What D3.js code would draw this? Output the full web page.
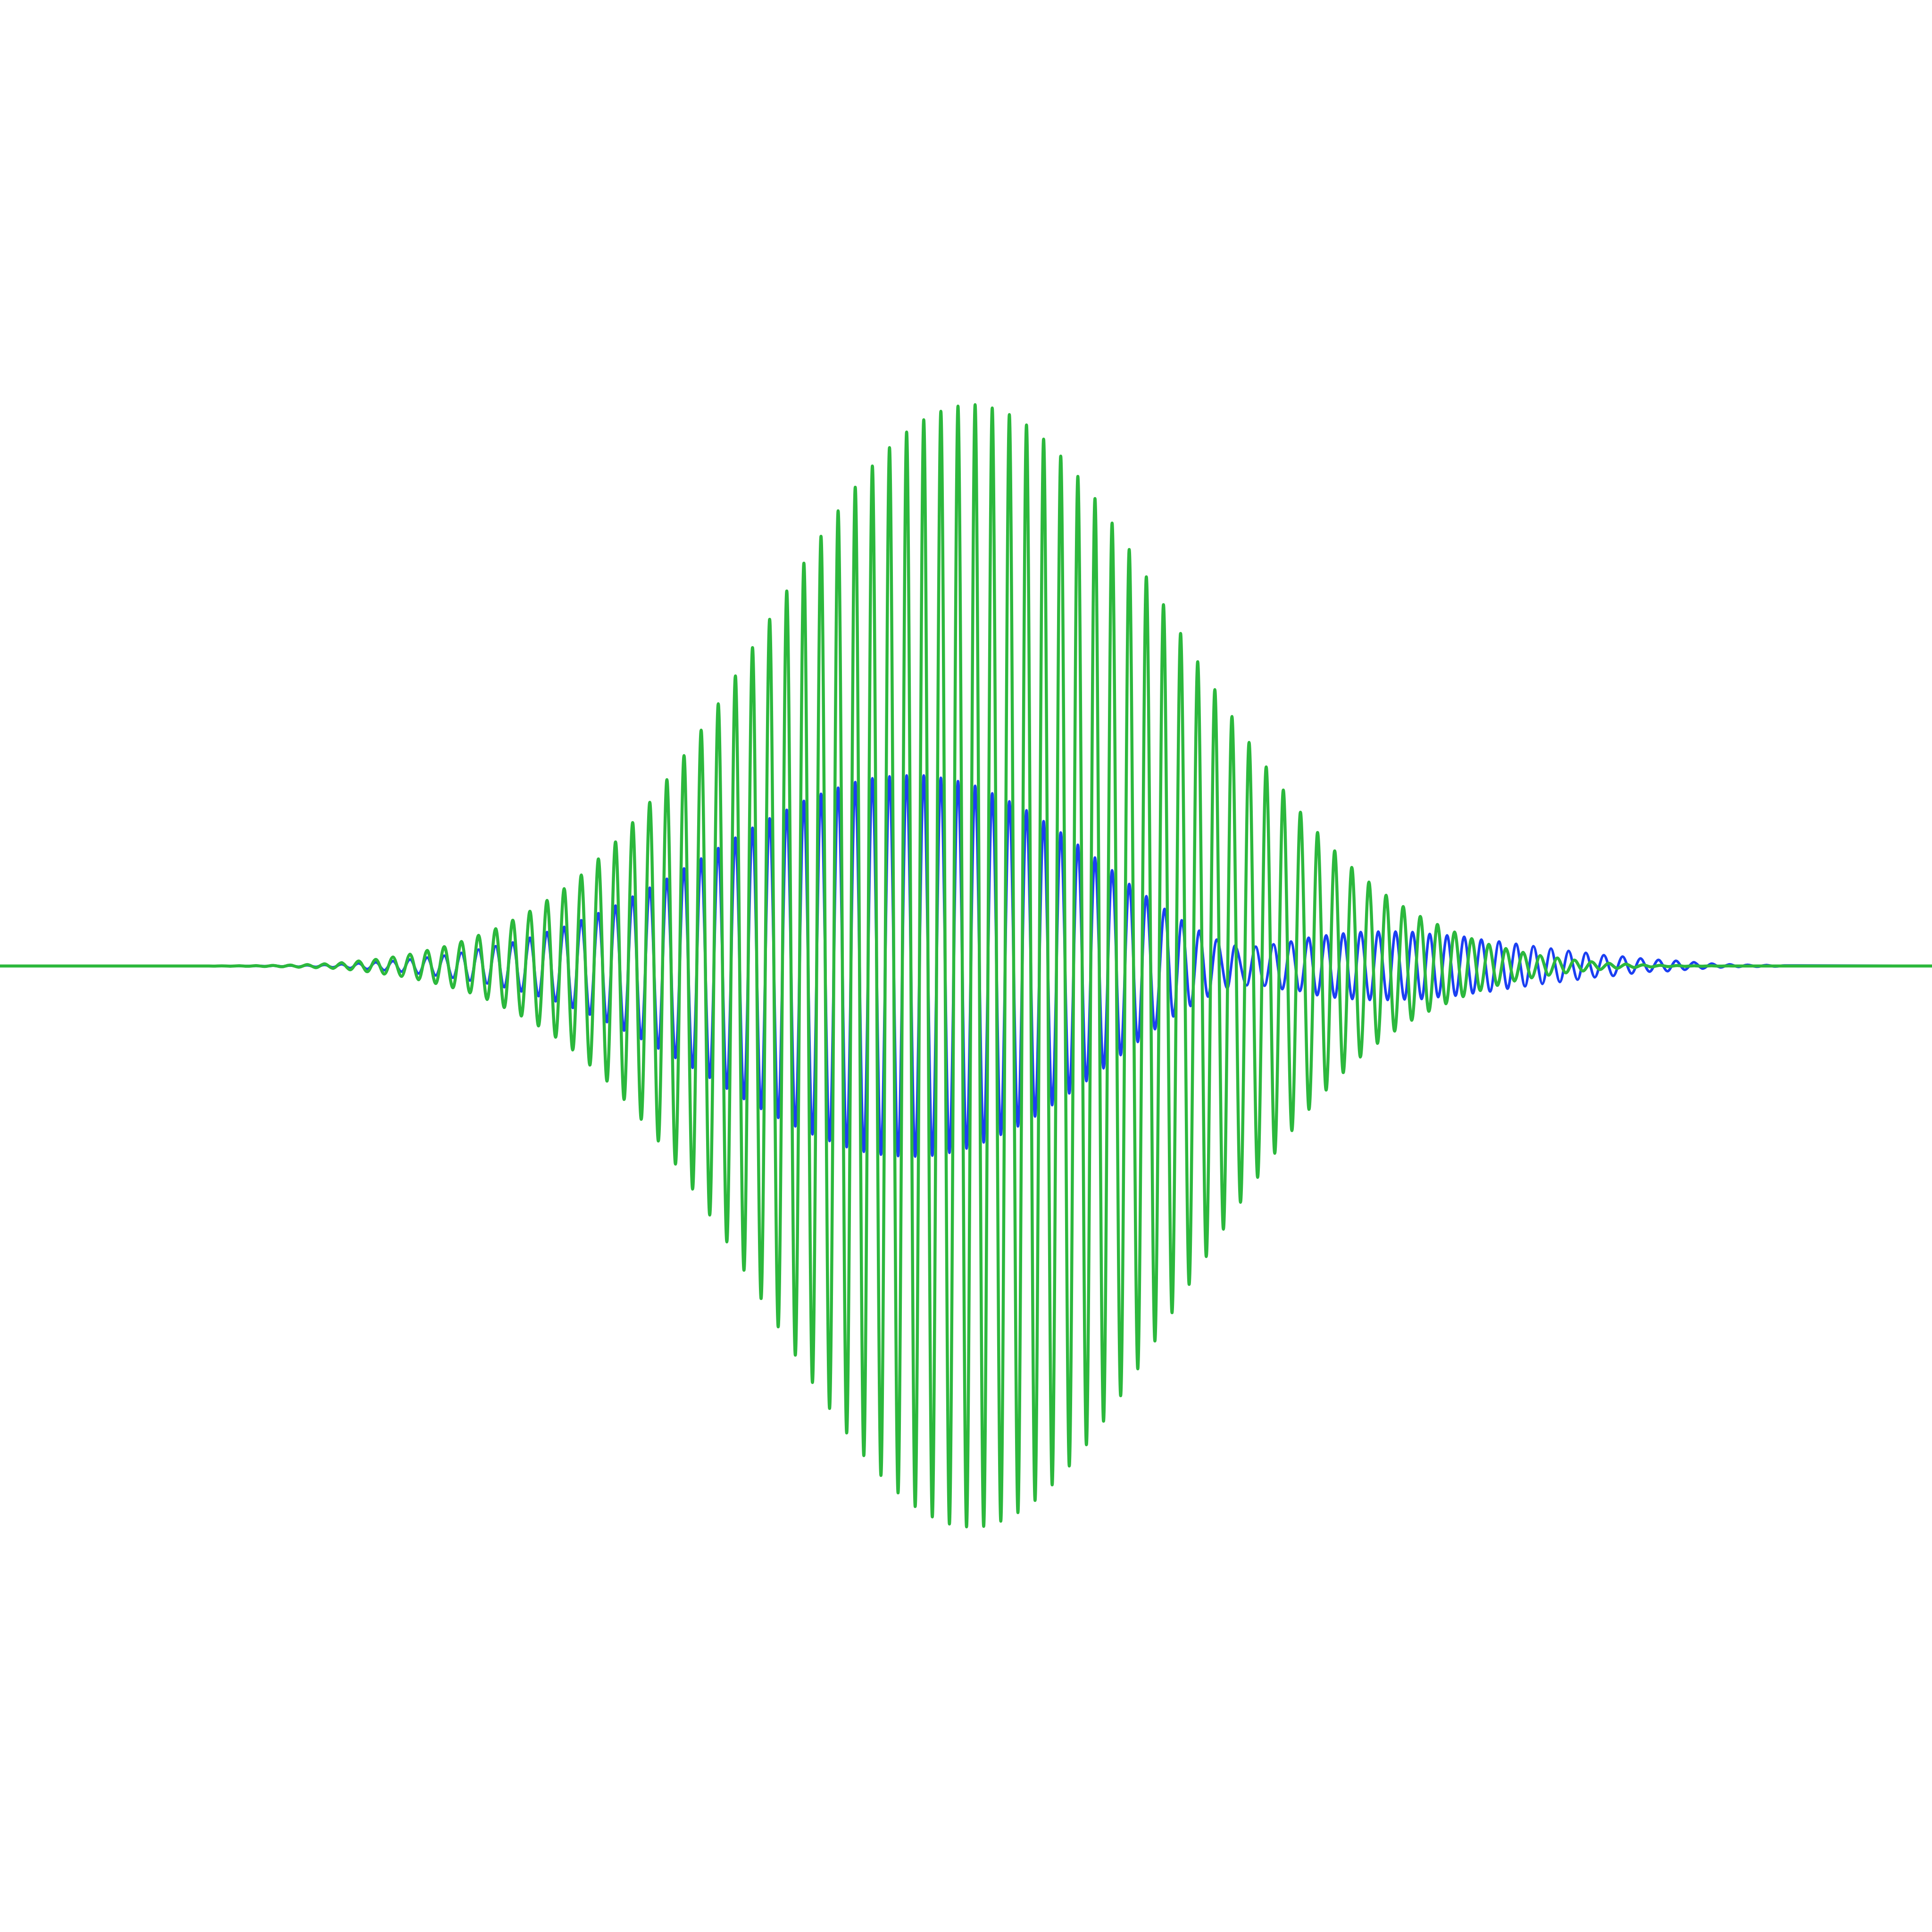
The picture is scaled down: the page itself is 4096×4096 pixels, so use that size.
<!DOCTYPE html>
<html><head><meta charset="utf-8">
<script src="https://cdn.jsdelivr.net/npm/d3@7"></script>
<style>html,body{margin:0;padding:0;background:#fff}svg{display:block}</style>
</head><body>
<div id="chart"></div>
<script>
// x: time in half-period units (0 = central crest); y: signal amplitude
const xDomain = [-113.9, 111.77];
const yDomain = [-2048, 2048];

const greenT = [-113.9,
-90,-89,-88,-87,-86,-85,-84,-83,-82,-81,-80,-79,-78,-77,-76,-75,-74,-73,-72,-71,
-70,-69,-68,-67,-66,-65,-64,-63,-62,-61,-60,-59,-58,-57,-56,-55,-54,-53,-52,-51,
-50,-49,-48,-47,-46,-45,-44,-43,-42,-41,-40,-39,-38,-37,-36,-35,-34,-33,-32,-31,
-30,-29,-28,-27,-26,-25,-24,-23,-22,-21,-20,-19,-18,-17,-16,-15,-14,-13,-12,-11,
-10,-9,-8,-7,-6,-5,-4,-3,-2,-1,0,1,2,3,4,5,6,7,8,9,
10,11,12,13,14,15,16,17,18,19,20,21,22,23,24,25,26,27,28,29,
30,31,32,33,34,35,36,37,38,39,40,41,42,43,44,45,46,47,48,49,
50,51,52,53,54,55,56,57,58,59,60,61,62,63,64,65,66,67,68,69,
70,71,72,73,74,75,76,77,78,79,80,81,82,83,84,85,86,87,88,89,90,
111.77];
const greenV = [0,
0.1,-0.2,0.3,-0.4,0.5,-0.6,0.8,-1.0,1.3,-1.6,2.0,-2.5,3.0,-3.5,4.5,-5,7,-8,10.5,-12,
14,-17,19,-22,25,-29,33,-37,41,-46,52,-57,65,-71,79,-88,97,-106,116,-127,
139,-151,164,-178,193,-210,227,-244,263,-283,304,-325,347,-371,395,-420,446,-473,500,-528,
556,-585,615,-645,675,-705,735,-765,795,-825,854,-883,911,-938,965,-990,1015,-1038,1060,-1080,
1099,-1117,1132,-1146,1158,-1168,1176,-1183,1187,-1189,1190,-1188,1183,-1177,1169,-1159,1147,-1133,1117,-1100,
1081,-1060,1038,-1015,991,-965,939,-911,883,-854,825,-795,766,-735,705,-675,645,-616,586,-558,
529,-501,474,-448,422,-397,373,-349,326,-304,283,-263,244,-226,209,-193,178,-164,150,-138,
126,-115,105,-96,88,-80,72,-65,58,-52,46,-41,37,-32,29,-25,22,-19.5,17,-14.5,
12.5,-10.5,9,-7.5,6,-5,4,-3.2,2.6,-2,1.6,-1.3,1,-0.8,0.6,-0.5,0.4,-0.3,0.2,-0.1,0,
0];

const blueT = [-113.9,
-90,-89,-88,-87,-86,-85,-84,-83,-82,-81,-80,-79,-78,-77,-76,-75,-74,-73,-72,-71,
-70,-69,-68,-67,-66,-65,-64,-63,-62,-61,-60,-59,-58,-57,-56,-55,-54,-53,-52,-51,
-50,-49,-48,-47,-46,-45,-44,-43,-42,-41,-40,-39,-38,-37,-36,-35,-34,-33,-32,-31,
-30,-29,-28,-27,-26,-25,-24,-23,-22,-21,-20,-19,-18,-17,-16,-15,-14,-13,-12,-11,
-10,-9,-8,-7,-6,-5,-4,-3,-2,-1,0,1,2,3,4,5,6,7,8,9,
10,11,12,13,14,15,16,17,18,19,20,21,
22.13,23.16,24.14,25.16,26.18,27.20,28.22,29.46,30.34,
31.72,32.77,33.81,34.86,35.88,36.90,37.94,38.96,39.95,41.01,
42.02,43.01,44.06,45.04,46.10,47.09,48.19,49.10,50.16,51.09,
52.16,53.10,54.09,55.13,56.11,57.12,58.14,59.13,60.15,61.20,
62.19,63.18,64.23,65.22,66.26,67.26,68.30,69.32,70.37,71.33,
72.38,73.43,74.53,75.63,76.68,77.72,78.77,79.82,80.87,81.86,
82.90,83.95,85.00,86.04,87.09,88.14,89.18,90.23,91.33,92.44,
93.48,94.53,
111.77];
const blueV = [0,
0.1,-0.1,0.2,-0.2,0.3,-0.3,0.45,-0.55,0.7,-0.9,1.1,-1.4,1.6,-1.9,2.5,-2.8,3.8,-4.4,5.8,-6.5,
8,-9,10.5,-12,14,-16,18,-20,22,-25,28,-31,35,-37,42,-45,50,-54,60,-64,
72,-75,83,-89,97,-103,112,-119,128,-137,147,-155,166,-175,185,-195,207,-216,228,-237,
250,-260,272,-282,293,-303,313,-322,331,-340,350,-357,365,-371,378,-384,390,-394,398,-400,
402,-403,404,-404,404,-402,399,-396,392,-387,382,-374,366,-358,349,-340,330,-319,307,-295,
283,-270,257,-244,230,-217,203,-189,174,-161,148,-134,
121,-107,97,-85,75,-65,56,-47,43,
-41,41,-42,46,-49,52,-53,60,-62,65,
-67,69,-70,72,-72,73,-72,73,-71,72,
-70,68,-66,65,-63,62,-58,56,-54,52,
-48,47,-43,42,-38,37,-34,32,-29,28,
-24,23,-21,20,-16,16,-12,13,-11,11,
-8,8,-5.5,5,-3,3.5,-2,2.5,-1.5,2,
-1,1,
0];

const W = 4096, H = 4096;
const svg = d3.select("#chart").append("svg")
  .attr("width", W).attr("height", H)
  .attr("viewBox", `0 0 ${W} ${H}`)
  .style("background", "#ffffff");

const x = d3.scaleLinear().domain(xDomain).range([0, W]);
const y = d3.scaleLinear().domain(yDomain).range([H, 0]);

const line = d3.line()
  .x(d => x(d[0]))
  .y(d => y(d[1]))
  .curve(d3.curveMonotoneX);

const blueData = d3.zip(blueT, blueV);
const greenData = d3.zip(greenT, greenV);

svg.append("path")
  .datum(blueData)
  .attr("d", line)
  .attr("fill", "none")
  .attr("stroke", "#1b3ff2")
  .attr("stroke-width", 5.5)
  .attr("stroke-linejoin", "round");

svg.append("path")
  .datum(greenData)
  .attr("d", line)
  .attr("fill", "none")
  .attr("stroke", "#2cb83d")
  .attr("stroke-width", 6.5)
  .attr("stroke-linejoin", "round");
</script>
</body></html>
